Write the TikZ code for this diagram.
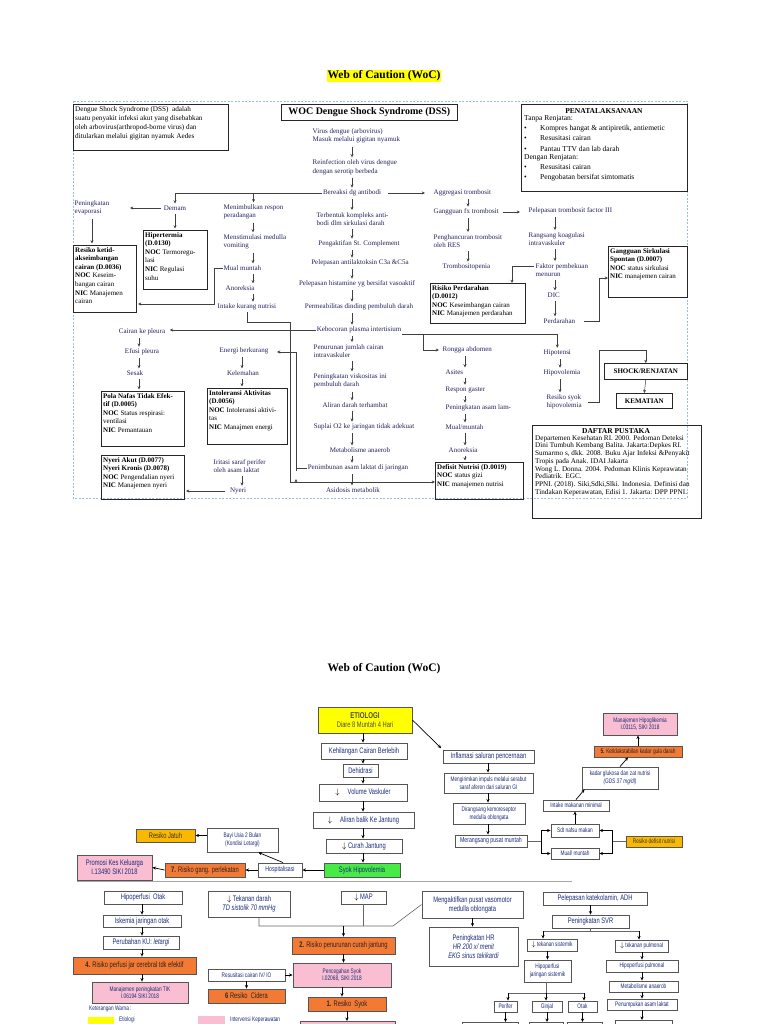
\documentclass[tikz,border=0pt]{standalone}
\usepackage{fontspec}
\setmainfont{Liberation Serif}
\newfontfamily\cnd[FakeStretch=0.72]{Liberation Sans}
\usetikzlibrary{arrows.meta,calc}
\definecolor{tnavy}{RGB}{35,35,90}
\definecolor{bnavy}{RGB}{30,45,120}
\definecolor{bgray}{RGB}{85,85,85}
\definecolor{cyel}{RGB}{255,255,0}
\definecolor{cgreen}{RGB}{70,235,70}
\definecolor{cpink}{RGB}{249,190,210}
\definecolor{corange}{RGB}{242,122,52}
\definecolor{camber}{RGB}{250,185,0}
\definecolor{dashblue}{RGB}{150,190,230}
\newcommand\tA{\fontsize{7}{8.6}\selectfont}
\newcommand\bA{\cnd\fontsize{8}{9}\selectfont}
\newcommand\bB{\cnd\fontsize{7.2}{8.2}\selectfont}
\newcommand\bC{\cnd\fontsize{6.6}{7.6}\selectfont}
\newcommand\dn{{\color{black}$\downarrow$}}
\begin{document}
\begin{tikzpicture}[x=1pt,y=-1pt,
  ft/.style={font=\tA, text=tnavy, inner sep=0.5pt, align=center},
  fl/.style={font=\tA, text=tnavy, inner sep=0.5pt, align=left, anchor=west},
  tbx/.style={draw=black!85, line width=0.6pt, anchor=north west, inner sep=0pt},
  tin/.style={font=\tA, align=left, anchor=north west, inner sep=2pt, text=black},
  ta/.style={-{Stealth[length=3.2pt,width=3pt]}, line width=0.5pt, draw=black!75, shorten <=2.5pt, shorten >=1.5pt},
  tl/.style={line width=0.5pt, draw=black!75},
  bb/.style={draw=bgray, line width=0.9pt, text=bnavy, align=center, inner sep=0.5pt, font=\bA},
  ba/.style={-{Stealth[length=3.5pt,width=3.2pt]}, line width=0.7pt, draw=black},
  bl/.style={line width=0.6pt, draw=black!60},
]
\useasboundingbox (0,0) rectangle (768,1024);
\fill[white] (0,0) rectangle (768,1024);

%================ TOP DIAGRAM =================
\node[fill=cyel, inner sep=0.5pt, font=\bfseries\fontsize{11.5}{13}\selectfont] (title1) at (384,76) {Web of Caution (WoC)};
\draw[dashblue, dash pattern=on 2pt off 1.5pt, line width=0.4pt] (73,101) rectangle (687,498);

\node[tbx, minimum width=155pt, minimum height=46pt] (dss) at (73,104) {};
\node[tin, font=\fontsize{7.2}{9}\selectfont] at (dss.north west) {Dengue Shock Syndrome (DSS)~~adalah\\suatu penyakit infeksi akut yang disebabkan\\oleh arbovirus(arthropod-borne virus) dan\\ditularkan melalui gigitan nyamuk Aedes};

\node[tbx, minimum width=176pt, minimum height=16pt] (woc) at (281,104) {};
\node[font=\bfseries\fontsize{10}{11}\selectfont, inner sep=0pt] at (woc.center) {WOC Dengue Shock Syndrome (DSS)};

\node[tbx, minimum width=166pt, minimum height=87pt] (pen) at (521,104) {};
\node[font=\bfseries\fontsize{7.5}{9}\selectfont, inner sep=0pt] at (604,111) {PENATALAKSANAAN};
\node[tin, font=\fontsize{7.5}{10.3}\selectfont, inner sep=0pt] at (524,115) {Tanpa Renjatan:\\
\makebox[16pt][l]{\textbullet}Kompres hangat \& antipiretik, antiemetic\\
\makebox[16pt][l]{\textbullet}Resusitasi cairan\\
\makebox[16pt][l]{\textbullet}Pantau TTV dan lab darah\\[-2pt]
Dengan Renjatan:\\
\makebox[16pt][l]{\textbullet}Resusitasi cairan\\
\makebox[16pt][l]{\textbullet}Pengobatan bersifat simtomatis};

% central column
\node[fl] (t1) at (312,136) {Virus dengue (arbovirus)\\Masuk melalui gigitan nyamuk};
\node[fl] (t2) at (312,167) {Reinfection oleh virus dengue\\dengan serotip berbeda};
\node[ft] (t3) at (352,193) {Bereaksi dg antibodi};
\node[fl] (t4) at (316,219) {Terbentuk kompleks anti-\\bodi dlm sirkulasi darah};
\node[ft] (t5) at (359,244) {Pengaktifan St. Complement};
\node[ft] (t6) at (360,263) {Pelepasan antilaktoksin C3a \&C5a};
\node[ft] (t7) at (357,284) {Pelepasan histamine yg bersifat vasoaktif};
\node[ft] (t8) at (359,307) {Permeabilitas dinding pembuluh darah};
\node[ft] (t9) at (359,330) {Kebocoran plasma intertisium};
\node[fl] (t10) at (313,351) {Penurunan jumlah cairan\\intravaskuler};
\node[fl] (t11) at (313,381) {Peningkatan viskositas ini\\pembuluh darah};
\node[ft] (t12) at (355,405) {Aliran darah terhambat};
\node[ft] (t13) at (364,427) {Suplai O2 ke jaringan tidak adekuat};
\node[ft] (t14) at (360,450) {Metabolisme anaerob};
\node[ft] (t15) at (358,468) {Penimbunan asam laktat di jaringan};
\node[ft] (t16) at (353,490) {Asidosis metabolik};
\coordinate (cx) at (352,0);
\foreach \a/\b in {t1/t2,t2/t3,t3/t4,t4/t5,t5/t6,t6/t7,t7/t8,t8/t9,t9/t10,t10/t11,t11/t12,t12/t13,t13/t14,t14/t15,t15/t16}
  \draw[ta] (\a.south -| cx) -- (\b.north -| cx);

% left branch
\node[ft] (dem) at (175,208) {Demam};
\node[fl] (evap) at (74,208) {Peningkatan\\evaporasi};
\node[fl] (m1) at (223,212) {Menimbulkan respon\\peradangan};
\node[fl] (m2) at (223,242) {Menstimulasi medulla\\vomiting};
\node[fl] (m3) at (223,268) {Mual muntah};
\node[fl] (m4) at (225,288) {Anoreksia};
\node[fl] (m5) at (217,307) {Intake kurang nutrisi};
\draw[ta, shorten <=0pt] (t3.west) -| (dem.north);
\draw[ta, shorten <=0pt] (t3.west -| m1.north) -- (m1.north);
\draw[ta, shorten >=20pt] (dem.west) -- (evap.east |- dem.west);
\coordinate (mx) at (253,0);
\foreach \a/\b in {m1/m2,m2/m3,m3/m4,m4/m5}
  \draw[ta] (\a.south -| mx) -- (\b.north -| mx);

\node[tbx, minimum width=63pt, minimum height=67pt] (rk) at (73,245) {};
\node[tin] at (rk.north west) {\textbf{Resiko ketid-}\\\textbf{akseimbangan}\\\textbf{cairan (D.0036)}\\\textbf{NOC} Keseim-\\bangan cairan\\\textbf{NIC} Manajemen\\cairan};
\draw[ta] (evap.south) -- (evap.south |- rk.north);

\node[tbx, minimum width=64pt, minimum height=59pt] (hip) at (143,230) {};
\node[tin] at (hip.north west) {\textbf{Hipertermia}\\\textbf{(D.0130)}\\\textbf{NOC} Termoregu-\\lasi\\\textbf{NIC} Regulasi\\suhu};
\draw[ta] (dem.south) -- (dem.south |- hip.north);

\coordinate (c1) at (214,304);
\draw[ta, shorten <=0pt] (m3.west) -| (c1) -- (c1 -| rk.east);

% lower left
\node[ft] (cp) at (142,332) {Cairan ke pleura};
\node[ft] (ef) at (142,352) {Efusi pleura};
\node[ft] (sk) at (135,373) {Sesak};
\draw[ta, shorten <=0pt, shorten >=4pt] (t9.west) -- (t9.west -| cp.east);
\node[tbx, minimum width=83pt, minimum height=55pt] (pn) at (101,391) {};
\node[tin] at (pn.north west) {\textbf{Pola Nafas Tidak Efek-}\\\textbf{tif (D.0005)}\\\textbf{NOC} Status respirasi:\\ventilasi\\\textbf{NIC} Pemantauan};
\coordinate (lx) at (139,0);
\foreach \a/\b in {cp/ef,ef/sk,sk/pn}
  \draw[ta] (\a.south -| lx) -- (\b.north -| lx);

\node[ft] (eb) at (244,351) {Energi berkurang};
\node[ft] (kl) at (243,373) {Kelemahan};
\node[tbx, minimum width=80pt, minimum height=56pt] (ia) at (207,388) {};
\node[tin] at (ia.north west) {\textbf{Intoleransi Aktivitas}\\\textbf{(D.0056)}\\\textbf{NOC} Intoleransi aktivi-\\tas\\\textbf{NIC} Manajmen energi};
\coordinate (ex) at (242,0);
\foreach \a/\b in {eb/kl,kl/ia}
  \draw[ta] (\a.south -| ex) -- (\b.north -| ex);

\node[fl] (ir) at (213,466) {Iritasi saraf perifer\\oleh asam laktat};
\node[ft] (ny) at (238,491) {Nyeri};
\draw[ta] (ir.south -| ex) -- (ny.north -| ex);
\node[tbx, minimum width=83pt, minimum height=44pt] (na) at (101,455) {};
\node[tin] at (na.north west) {\textbf{Nyeri Akut (D.0077)}\\\textbf{Nyeri Kronis (D.0078)}\\\textbf{NOC} Pengendalian nyeri\\\textbf{NIC} Manajemen nyeri};
\draw[ta, shorten <=4pt] (ny.west) -- (ny.west -| na.east);

\coordinate (c4) at (296,468);
\coordinate (c5) at (296,352);
\draw[ta, shorten <=0pt, shorten >=8pt] (t15.west) -- (c4) -- (c5) -- (c5 -| eb.east);
\draw[ta, shorten <=0pt, shorten >=8pt] ($(c4)+(0,3)$) -- ($(c4)+(0,3)$ -| ir.east);

% right branch
\node[fl] (ag) at (433,193) {Aggregasi trombosit};
\node[fl] (gf) at (433,212) {Gangguan fx trombosit};
\node[fl] (ph) at (433,241) {Penghancuran trombosit\\oleh RES};
\node[fl] (tp) at (442,267) {Trombositopenia};
\draw[ta, shorten <=6pt, shorten >=8pt] (t3.east) -- (ag.west);
\coordinate (gx) at (468,0);
\foreach \a/\b in {ag/gf,gf/ph,ph/tp}
  \draw[ta] (\a.south -| gx) -- (\b.north -| gx);

\node[fl] (pt) at (528,211) {Pelepasan trombosit factor III};
\node[fl] (rg) at (528,239) {Rangsang koagulasi\\intravaskuler};
\node[fl] (fp) at (535,270) {Faktor pembekuan\\menurun};
\node[fl] (dic) at (547,295) {DIC};
\node[fl] (pd) at (543,321) {Perdarahan};
\draw[ta, shorten <=4pt, shorten >=8pt] (gf.east) -- (gf.east -| pt.west);
\coordinate (px) at (555,0);
\foreach \a/\b in {pt/rg,rg/fp,fp/dic,dic/pd}
  \draw[ta] (\a.south -| px) -- (\b.north -| px);

\node[tbx, minimum width=95pt, minimum height=40pt] (rp) at (430,283) {};
\node[tin] at (rp.north west) {\textbf{Risiko Perdarahan}\\\textbf{(D.0012)}\\\textbf{NOC} Keseimbangan cairan\\\textbf{NIC} Manajemen perdarahan};
\coordinate (c6) at (512,266);
\draw[ta, shorten <=1pt, shorten >=0pt] (fp.west |- c6) -- (c6) -- (c6 |- rp.north);

\node[tbx, minimum width=79pt, minimum height=51pt] (gs) at (608,246) {};
\node[tin] at (gs.north west) {\textbf{Gangguan Sirkulasi}\\\textbf{Spontan (D.0007)}\\\textbf{NOC} status sirkulasi\\\textbf{NIC} manajemen cairan};
\coordinate (c7) at (599,321);
\coordinate (c8) at (599,278);
\draw[ta, shorten <=8pt, shorten >=0pt] (pd.east) -- (c7) -- (c8) -- (c8 -| gs.west);

\node[fl] (hp) at (543,353) {Hipotensi};
\node[fl] (hv) at (543,373) {Hipovolemia};
\node[fl] (rs) at (546,402) {Resiko syok\\hipovolemia};
\draw[ta, shorten <=0pt] (t9.south east) -| (hp.north);
\coordinate (hx) at (560,0);
\foreach \a/\b in {hp/hv,hv/rs}
  \draw[ta] (\a.south -| hx) -- (\b.north -| hx);

\node[tbx, minimum width=83pt, minimum height=16pt] (sh) at (604,363) {};
\node[font=\tA\bfseries, inner sep=0pt] at (sh.center) {SHOCK/RENJATAN};
\node[tbx, minimum width=56pt, minimum height=15pt] (km) at (616,393) {};
\node[font=\tA\bfseries, inner sep=0pt] at (km.center) {KEMATIAN};
\coordinate (c11) at (599,402);
\coordinate (c12) at (599,350);
\draw[ta, shorten <=6pt, shorten >=0pt] (rs.east) -- (c11) -- (c12) -| (sh.north);
\draw[ta, shorten <=0pt, shorten >=0pt] (sh.south) -- (km.north);

\node[fl] (ra) at (442,350) {Rongga abdomen};
\node[fl] (as) at (445,372) {Asites};
\node[fl] (rg2) at (445,390) {Respon gaster};
\node[fl] (pa) at (445,408) {Peningkatan asam lam-};
\node[fl] (mm) at (445,427) {Mual/muntah};
\node[fl] (an) at (448,450) {Anoreksia};
\coordinate (c10) at (423,0);
\draw[ta, shorten <=0pt, shorten >=3pt] (t9.south east -| c10) |- (ra.west);
\node[tbx, minimum width=88pt, minimum height=37pt] (dnb) at (435,462) {};
\node[tin] at (dnb.north west) {\textbf{Defisit Nutrisi (D.0019)}\\\textbf{NOC} status gizi\\\textbf{NIC} manajemen nutrisi};
\coordinate (rx) at (465,0);
\foreach \a/\b in {ra/as,as/rg2,rg2/pa,pa/mm,mm/an,an/dnb}
  \draw[ta] (\a.south -| rx) -- (\b.north -| rx);

\coordinate (c2) at (290,322);
\coordinate (c3) at (290,482);
\draw[ta, shorten <=1pt, shorten >=0pt] (m5.south) |- (c2) -- (c3) -- (c3 -| dnb.west);

\node[tbx, minimum width=169pt, minimum height=93pt] (dp) at (532,425) {};
\node[font=\bfseries\fontsize{7.5}{9}\selectfont, inner sep=0pt] at (616,431) {DAFTAR PUSTAKA};
\node[tin, font=\fontsize{7.2}{7.75}\selectfont, inner sep=0pt] at (535,435) {Departemen Kesehatan RI. 2000. Pedoman Deteksi\\Dini Tumbuh Kembang Balita. Jakarta:Depkes RI.\\Sumarmo s, dkk. 2008. Buku Ajar Infeksi \&Penyakit\\Tropis pada Anak. IDAI Jakarta\\Wong L. Donna. 2004. Pedoman Klinis Keprawatan\\Pediatrik. EGC.\\PPNI. (2018). Siki,Sdki,Slki. Indonesia. Definisi dan\\Tindakan Keperawatan, Edisi 1. Jakarta: DPP PPNI.};

%================ BOTTOM DIAGRAM =================
\node[font=\bfseries\fontsize{11.5}{13}\selectfont] (title2) at (384,669) {Web of Caution (WoC)};

\node[bb, fill=cyel, minimum width=94pt, minimum height=26pt, text=black!70] (et) at (365,720) {{\cnd\bfseries\fontsize{8.5}{10}\selectfont ETIOLOGI}\\{\bA Diare 8 Muntah 4 Hari}};
\node[bb, minimum width=86pt, minimum height=16pt] (kc) at (364,751) {Kehilangan Cairan Berlebih};
\node[bb, minimum width=35pt, minimum height=13pt] (dh) at (360.5,770.5) {Dehidrasi};
\node[bb, minimum width=88pt, minimum height=17pt] (vv) at (363,792.5) {\dn\quad Volume Vaskuler};
\node[bb, minimum width=101pt, minimum height=16pt] (ab) at (363.5,820) {\dn\quad Aliran balik Ke Jantung};
\node[bb, minimum width=76pt, minimum height=14pt] (cj) at (364,846) {\dn\ Curah Jantung};
\node[bb, fill=cgreen, minimum width=76pt, minimum height=14pt] (sy) at (362,870) {Syok Hipovolemia};
\coordinate (bx) at (363,0);
\draw[ba] (et.south -| bx) -- (kc.north -| bx);
\foreach \a/\b in {kc/dh,dh/vv,vv/ab,ab/cj,cj/sy}
  \draw[ba] (\a.south -| bx) -- (\b.north -| bx);

\node[bb, font=\bB, minimum width=44pt, minimum height=14pt] (hs) at (280,870) {Hospitalisasi};
\node[bb, fill=corange, text=black!85, minimum width=80pt, minimum height=14pt] (r7) at (205,870) {\textbf{7.} Risiko gang. perlekatan};
\node[bb, fill=cpink, minimum width=75pt, minimum height=25pt] (pk) at (114.5,867.5) {Promosi Kes Keluarga\\I.13490 SIKI 2018};
\node[bb, font=\bC, minimum width=71pt, minimum height=24pt] (by) at (242.5,840) {Bayi Usia 2 Bulan\\(Kondisi Letargi)};
\node[bb, fill=camber, text=black!80, minimum width=59pt, minimum height=13pt] (rj) at (165.5,835.5) {Resiko Jatuh};
\draw[ba] (sy.west) -- (hs.east);
\draw[ba] (hs.west) -- (r7.east);
\draw[ba] (r7.west) -- (pk.east);
\draw[ba] ($(hs.north)+(3,0)$) -- ($(by.south)+(16,0)$);
\draw[ba] (by.west |- rj.east) -- (rj.east);

\node[bb, minimum width=91pt, minimum height=13pt] (inf) at (488.5,756.5) {Inflamasi saluran pencernaan};
\node[bb, font=\bC, minimum width=89pt, minimum height=20pt] (mi) at (488.5,783) {Mengirimkan impuls melalui serabut\\saraf aferen dari saluran GI};
\node[bb, font=\bC, minimum width=72pt, minimum height=21pt] (dk) at (489,813.5) {Dirangsang kemoreseptor\\medulla oblongata};
\node[bb, font=\bB, minimum width=72pt, minimum height=12pt] (mp) at (491,841) {Merangsang pusat muntah};
\draw[ba, shorten >=2pt] (et.east) -- (inf.north west);
\coordinate (ix) at (488,0);
\foreach \a/\b in {inf/mi,mi/dk,dk/mp}
  \draw[ba] (\a.south -| ix) -- (\b.north -| ix);

\node[bb, font=\bC, minimum width=48pt, minimum height=13pt] (sn) at (575,830.5) {Sdt nafsu makan};
\node[bb, font=\bC, minimum width=48pt, minimum height=11pt] (mu) at (575,853.5) {Mual/ muntah};
\node[bb, font=\bC, fill=camber, text=black!80, minimum width=56pt, minimum height=11pt] (rd) at (654,841.5) {Resiko defisit nutrisi};
\node[bb, font=\bC, minimum width=66pt, minimum height=11pt] (im) at (576,805.5) {Intake makanan minimal};
\node[bb, font=\bC, minimum width=76pt, minimum height=22pt] (kg) at (620,778) {kadar glukosa dan zat nutrisi\\\textit{(GDS 37 mg/dl)}};
\node[bb, font=\bC, fill=corange, text=black!85, minimum width=88pt, minimum height=11pt] (r5) at (638,751.5) {\textbf{5.} Ketidakstabilan kadar gula darah};
\node[bb, font=\bC, fill=cpink, minimum width=74pt, minimum height=22pt] (mh) at (640,724) {Manajemen Hipoglikemia\\I.03115, SIKI 2018};
\coordinate (jm) at (541,841);
\draw[bl] (mp.east) -- (jm);
\draw[ba] (jm) |- (sn.west);
\draw[ba] (jm) |- (mu.west);
\coordinate (jr) at (612,841.5);
\draw[bl] (rd.west) -- (jr);
\draw[ba] (jr) |- (sn.east);
\draw[ba] (jr) |- (mu.east);
\draw[ba] (sn.north) -- (sn.north |- im.south);
\draw[ba] (im.north) -- ($(kg.south west)+(3,0)$);
\draw[ba] (kg.north) -- ($(r5.south)+(-10,0)$);
\draw[ba] (r5.north) -- (r5.north |- mh.south);

\draw[gray!70, line width=0.6pt] (77,881) -- (572,881);

% lower-left
\node[bb, minimum width=78pt, minimum height=13pt] (ho) at (143,897.5) {Hipoperfusi~ Otak};
\node[bb, minimum width=78pt, minimum height=12pt] (ij) at (142,921) {Iskemia jaringan otak};
\node[bb, minimum width=76pt, minimum height=13pt] (pku) at (141,942.5) {Perubahan KU: \textit{letargi}};
\node[bb, fill=corange, text=black!85, minimum width=123pt, minimum height=17pt] (r4) at (134.5,965.5) {\textbf{4.} Risiko perfusi jar cerebral tdk efektif};
\node[bb, font=\bC, fill=cpink, minimum width=96pt, minimum height=21pt] (mt) at (140,992.5) {Manajemen peningkatan TIK\\I.06194 SIKI 2018};
\coordinate (ox) at (142,0);
\foreach \a/\b in {ho/ij,ij/pku,pku/r4,r4/mt}
  \draw[ba] (\a.south -| ox) -- (\b.north -| ox);

% middle
\node[bb, minimum width=82pt, minimum height=26pt] (td) at (249,904) {\dn\ Tekanan darah\\\textit{TD sistolik 70 mmHg}};
\node[bb, minimum width=45pt, minimum height=13pt] (map) at (363.5,897.5) {\dn\ MAP};
\node[bb, fill=corange, text=black!85, minimum width=103pt, minimum height=17pt] (r2) at (343.5,945.5) {\textbf{2.} Risiko penurunan curah jantung};
\node[bb, font=\bC, fill=cpink, minimum width=98pt, minimum height=24pt] (ps) at (342,975) {Pencegahan Syok\\I.02068, SIKI 2018};
\node[bb, font=\bC, minimum width=77pt, minimum height=12pt] (rc) at (246.5,975) {Resusitasi cairan IV/ IO};
\node[bb, fill=corange, text=black!85, minimum width=77pt, minimum height=14pt] (r6) at (246.5,996) {\textbf{6} Resiko~ Cidera};
\node[bb, fill=corange, text=black!85, minimum width=78pt, minimum height=14pt] (r1) at (347,1004) {\textbf{1.} Resiko~ Syok};

\node[bb, minimum width=101pt, minimum height=27pt] (mv) at (472.5,904.5) {Mengaktifkan pusat vasomotor\\medulla oblongata};
\node[bb, minimum width=89pt, minimum height=39pt] (hr) at (473.5,946.5) {Peningkatan HR\\\textit{HR 200 x/ menit}\\\textit{EKG sinus takikardi}};

\coordinate (j1) at (259,926);
\coordinate (j2) at (393,926);
\coordinate (j3) at (343.5,926);
\draw[bl] (td.south -| j1) -- (j1) -- (j2) -- (mv.west);
\draw[bl] (map.south) -- (map.south |- j1);
\draw[ba] (j3) -- (r2.north);
\draw[ba] (r2.south) -- (r2.south |- ps.north);
\draw[ba] (rc.east) -- (rc.east -| ps.west);
\draw[ba] (rc.south) -- (r6.north);
\draw[ba] (ps.south) -- (ps.south |- r1.north);
\draw[ba] (mv.south) -- (mv.south |- hr.north);

% right
\node[bb, minimum width=104pt, minimum height=13pt] (kt) at (595,898.5) {Pelepasan katekolamin, ADH};
\node[bb, minimum width=77pt, minimum height=13pt] (svr) at (590.5,921.5) {Peningkatan SVR};
\node[bb, font=\bC, minimum width=50pt, minimum height=12pt] (ts) at (552,945) {\dn\ tekanan sistemik};
\node[bb, font=\bC, minimum width=53pt, minimum height=12pt] (tpul) at (641.5,946) {\dn\ tekanan pulmonal};
\node[bb, font=\bC, minimum width=47pt, minimum height=22pt] (hjs) at (547.5,971) {Hipoperfusi\\jaringan sistemik};
\node[bb, font=\bC, minimum width=23pt, minimum height=11pt] (pf) at (505.5,1006.5) {Perifer};
\node[bb, font=\bC, minimum width=30pt, minimum height=11pt] (gj) at (547,1006.5) {Ginjal};
\node[bb, font=\bC, minimum width=29pt, minimum height=11pt] (ot) at (582.5,1006.5) {Otak};
\node[bb, font=\bC, minimum width=72pt, minimum height=12pt] (hpu) at (642,966) {Hipoperfusi pulmonal};
\node[bb, font=\bC, minimum width=69pt, minimum height=11pt] (ma) at (643.5,986.5) {Metabolisme anaerob};
\node[bb, font=\bC, minimum width=70pt, minimum height=11pt] (pal) at (642,1004.5) {Penumpukan asam laktat};

\draw[ba] (svr.north |- kt.south) -- (svr.north);
\coordinate (js) at (590.5,931);
\coordinate (jsl) at (543,931);
\coordinate (jsr) at (639,931);
\draw[bl] (svr.south) -- (js);
\draw[bl] (jsl) -- (jsr);
\draw[ba] (jsl) -- (jsl |- ts.north);
\draw[ba] (jsr) -- (jsr |- tpul.north);
\draw[ba] (hjs.north |- ts.south) -- (hjs.north);
\coordinate (jh) at (546,993);
\coordinate (jhl) at (508,993);
\coordinate (jhr) at (584,993);
\draw[bl] (hjs.south -| jh) -- (jh);
\draw[bl] (jhl) -- (jhr);
\draw[ba] (jhl) -- (jhl |- pf.north);
\draw[ba] (jh) -- (jh |- gj.north);
\draw[ba] (jhr) -- (jhr |- ot.north);
\coordinate (qx) at (642,0);
\foreach \a/\b in {tpul/hpu,hpu/ma,ma/pal}
  \draw[ba] (\a.south -| qx) -- (\b.north -| qx);

% legend and clipped partial boxes
\node[font=\bC, text=bnavy, anchor=west, inner sep=0pt] (leg) at (89,1009) {Keterangan Warna :};
\begin{scope}
\clip (0,0) rectangle (768,1024);
\fill[cyel] (88,1017) rectangle (114,1028);
\node[font=\bC, text=bnavy, anchor=west, inner sep=0pt] (lg1) at (119,1020) {Etiologi};
\fill[cpink] (198,1016) rectangle (225,1028);
\node[font=\bC, text=bnavy, anchor=west, inner sep=0pt] (lg2) at (230,1020) {Intervensi Keperawatan};
\node[bb, fill=cpink, anchor=north west, minimum width=95pt, minimum height=20pt] (pb1) at (300,1021) {};
\draw[ba] (r1.south) -- (r1.south |- pb1.north);
\node[bb, anchor=north west, minimum width=56pt, minimum height=20pt] (pb2) at (462,1022) {};
\node[bb, anchor=north west, minimum width=34pt, minimum height=20pt] (pb3) at (529,1022) {};
\node[bb, anchor=north west, minimum width=35pt, minimum height=20pt] (pb4) at (567,1022) {};
\node[bb, anchor=north west, minimum width=57pt, minimum height=20pt] (pb5) at (615,1020) {};
\draw[ba] (pf.south) -- (pf.south |- pb2.north);
\draw[ba] (gj.south) -- (gj.south |- pb3.north);
\draw[ba] (ot.south) -- (ot.south |- pb4.north);
\draw[ba] (pal.south) -- (pal.south |- pb5.north);
\end{scope}
\end{tikzpicture}
\end{document}
